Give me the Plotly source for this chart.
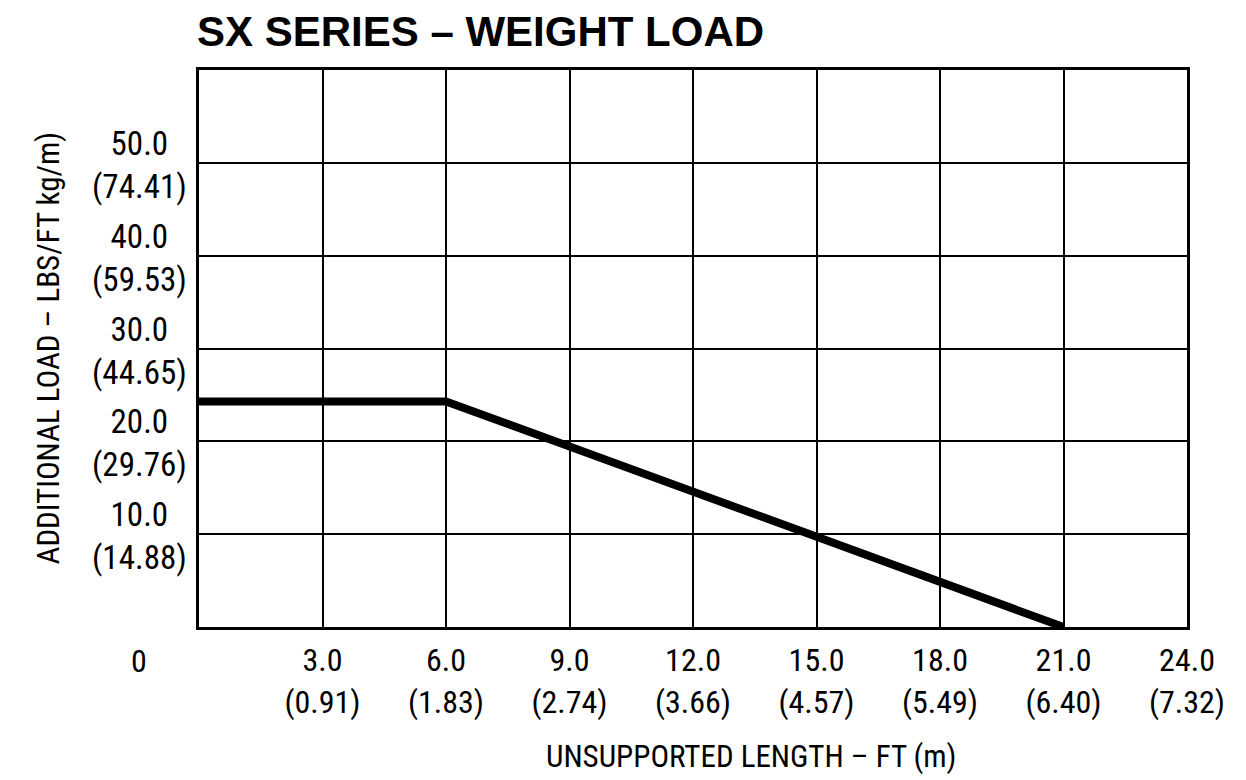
import plotly.graph_objects as go

# Data
length_ft = [0, 6, 21]
load_lbs_ft = [24.3, 24.3, 0]

x_tickvals = [3, 6, 9, 12, 15, 18, 21, 24]
x_ticktext = ["3.0<br>(0.91)", "6.0<br>(1.83)", "9.0<br>(2.74)", "12.0<br>(3.66)",
              "15.0<br>(4.57)", "18.0<br>(5.49)", "21.0<br>(6.40)", "24.0<br>(7.32)"]
y_tickvals = [10, 20, 30, 40, 50]
y_ticktext = ["10.0<br>(14.88)", "20.0<br>(29.76)", "30.0<br>(44.65)",
              "40.0<br>(59.53)", "50.0<br>(74.41)"]

FONT = "Roboto Condensed"
W, H = 1246, 780
L, R, T, B = 199, 59, 70, 153

fig = go.Figure()
fig.add_trace(go.Scatter(x=length_ft, y=load_lbs_ft, mode="lines",
                         line=dict(color="black", width=8), showlegend=False,
                         hoverinfo="skip"))

fig.update_layout(
    width=W, height=H,
    margin=dict(l=L, r=R, t=T, b=B, pad=0),
    paper_bgcolor="white", plot_bgcolor="white",
    font=dict(family=FONT, color="black", size=32),
    title=dict(text="<b>SX SERIES – WEIGHT LOAD</b>",
               font=dict(family="Liberation Sans", size=42, color="black"),
               xref="container", yref="container",
               x=(L - 2) / W, xanchor="left", y=1 - 31 / H, yanchor="middle"),
)

fig.update_xaxes(range=[0, 24], tickvals=x_tickvals, ticktext=x_ticktext,
                 showgrid=True, gridcolor="black", gridwidth=2,
                 showline=True, linecolor="black", linewidth=2.5, mirror=True,
                 ticks="outside", ticklen=3, tickcolor="rgba(0,0,0,0)",
                 tickfont=dict(family=FONT, size=32, color="black"), zeroline=False,
                 fixedrange=True)
fig.update_yaxes(range=[0, 60], tickvals=y_tickvals, showticklabels=False,
                 showgrid=True, gridcolor="black", gridwidth=2,
                 showline=True, linecolor="black", linewidth=2.5, mirror=True,
                 zeroline=False, fixedrange=True)

# y tick labels (centered, two lines)
for v, t in zip(y_tickvals, y_ticktext):
    fig.add_annotation(x=(139 - L) / (W - L - R), xref="paper", y=v, yref="y",
                       text=t, showarrow=False, xanchor="center", yanchor="middle",
                       align="center", yshift=-2,
                       font=dict(family=FONT, size=33, color="black"))

# origin label
fig.add_annotation(x=(139 - L) / (W - L - R), xref="paper", y=0, yref="y",
                   text="0", showarrow=False, xanchor="center", yanchor="top",
                   yshift=-13, font=dict(family=FONT, size=32, color="black"))

# y axis title
fig.add_annotation(x=(48 - L) / (W - L - R), xref="paper", y=0.5, yref="paper",
                   text="ADDITIONAL LOAD – LBS/FT kg/m)", textangle=-90,
                   showarrow=False, xanchor="center", yanchor="middle",
                   font=dict(family=FONT, size=31, color="black"))

# x axis title
fig.add_annotation(x=(751 - L) / (W - L - R), xref="paper",
                   y=-(756 - (H - B)) / (H - T - B), yref="paper",
                   text="UNSUPPORTED LENGTH – FT (m)",
                   showarrow=False, xanchor="center", yanchor="middle",
                   font=dict(family=FONT, size=31, color="black"))

fig.write_html("out.html")
